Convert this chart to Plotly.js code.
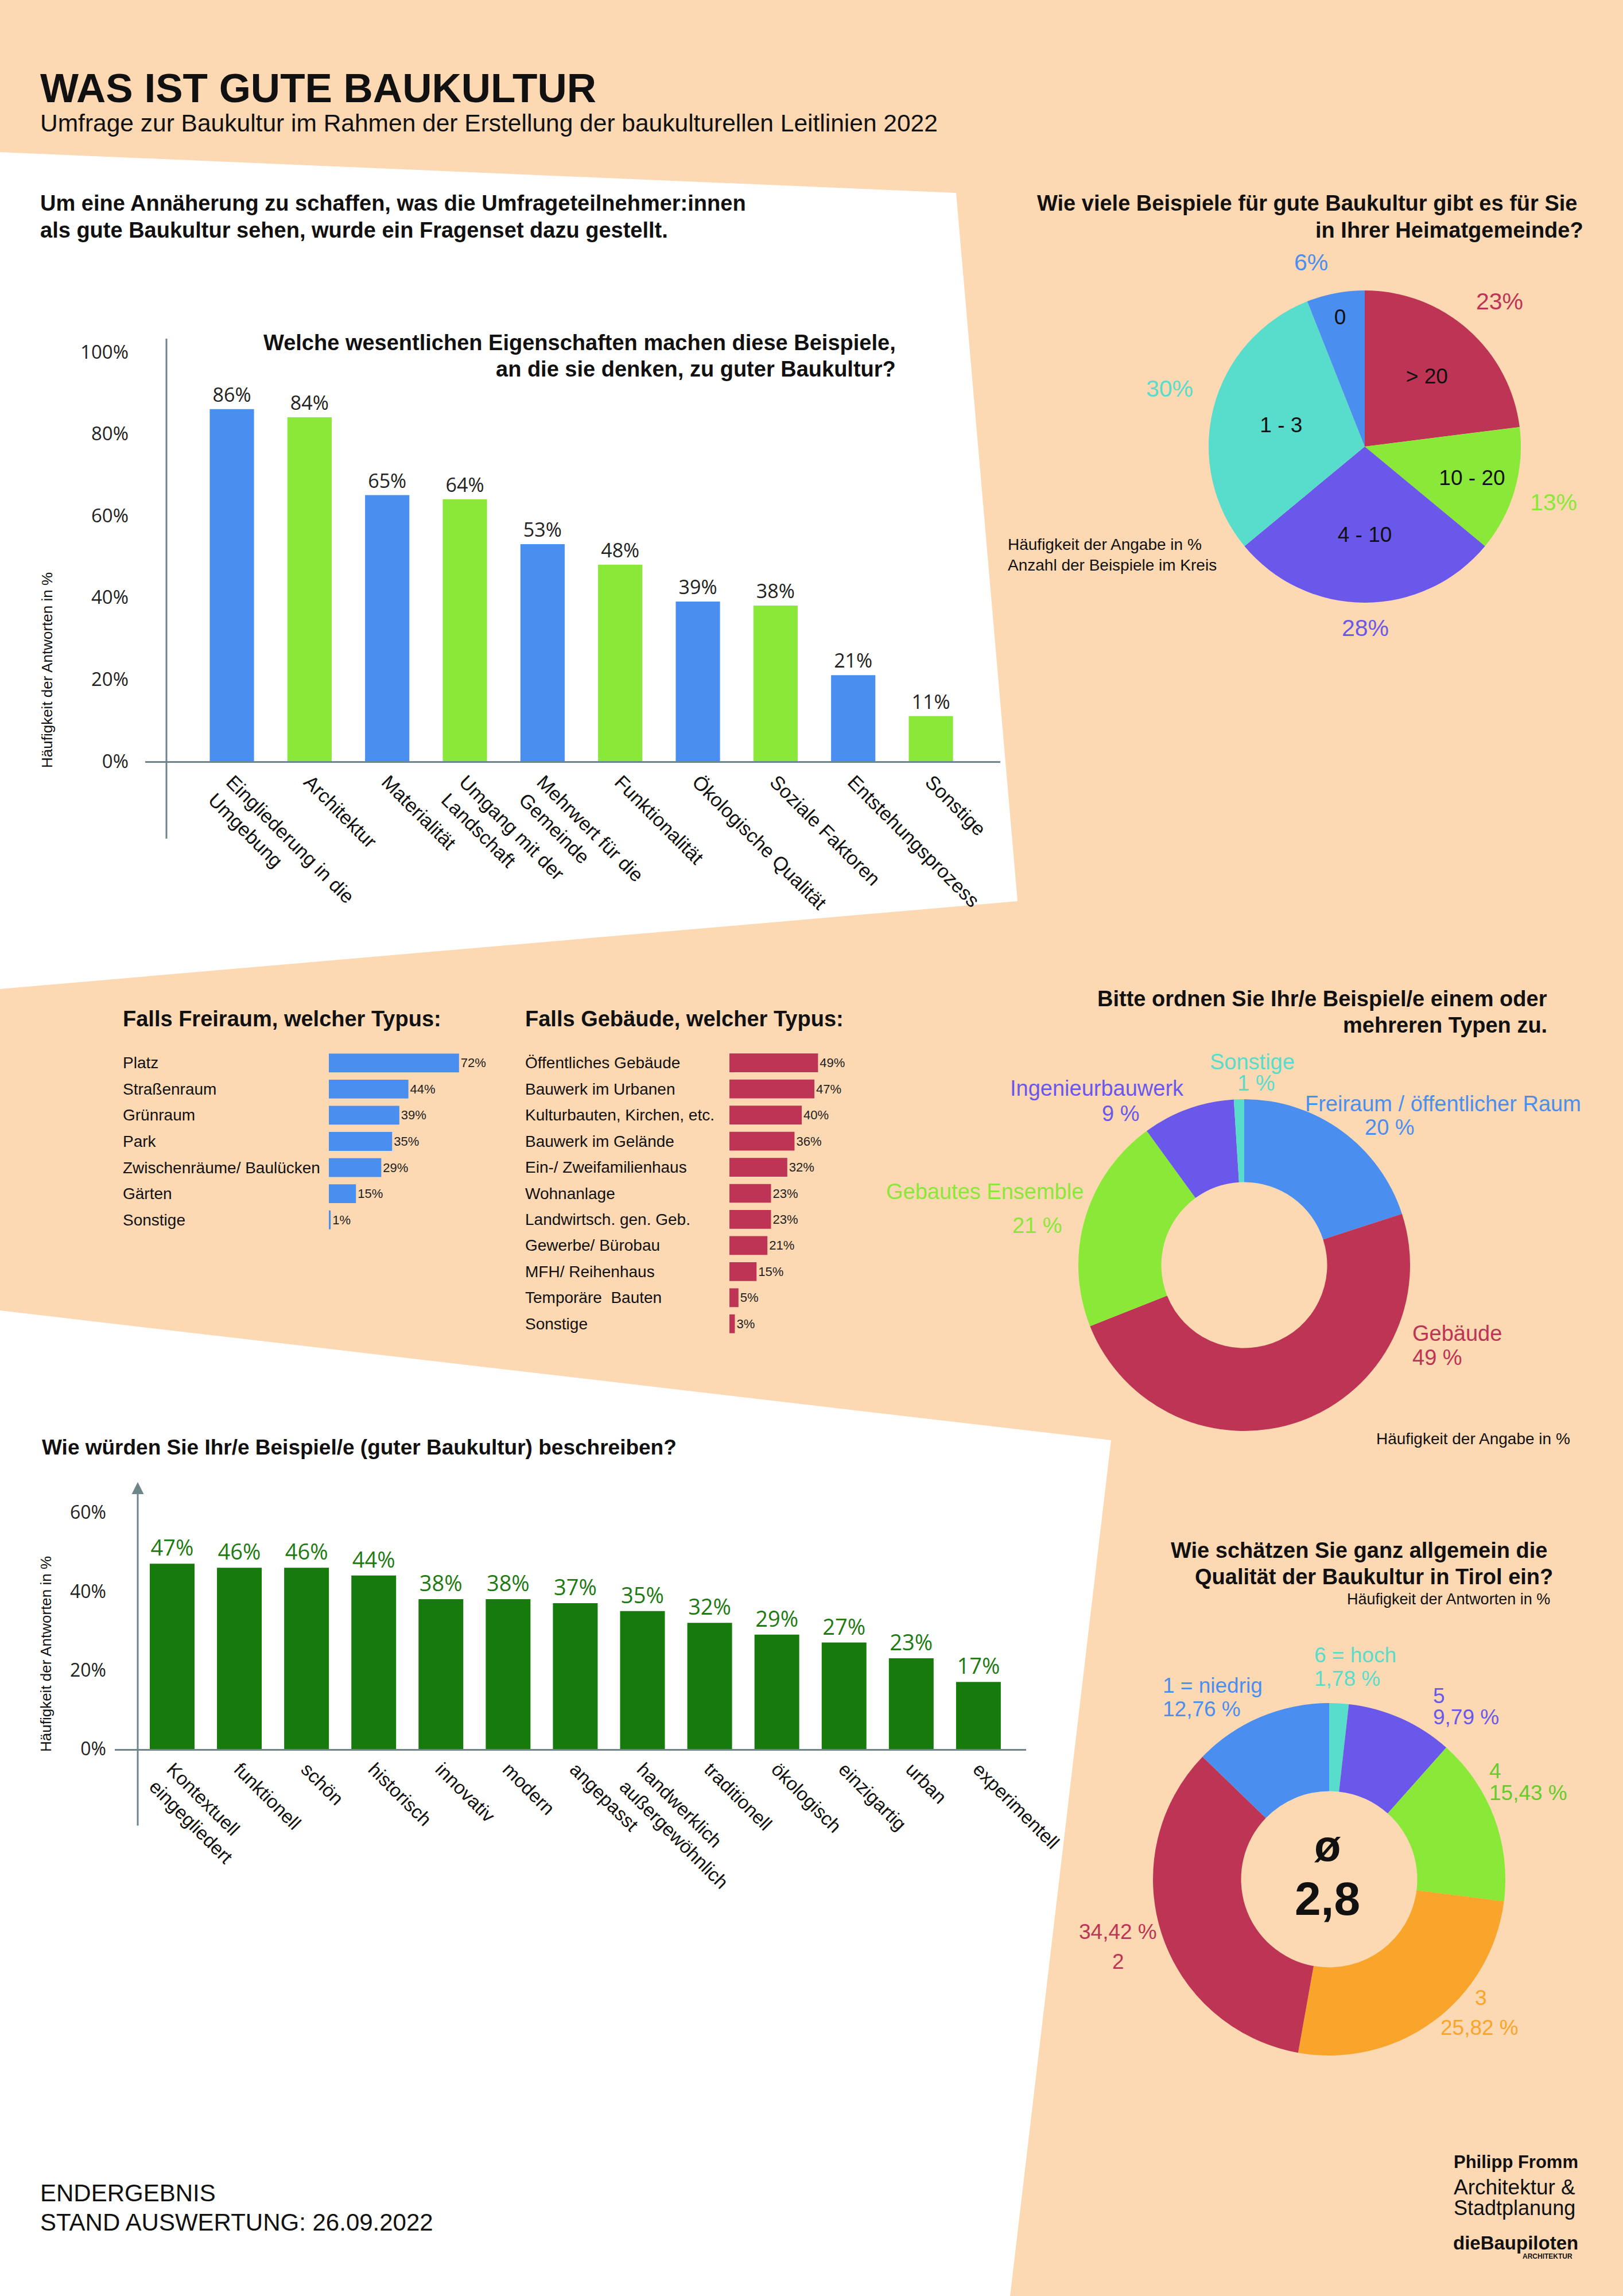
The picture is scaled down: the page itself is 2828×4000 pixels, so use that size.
<!DOCTYPE html>
<html>
<head>
<meta charset="utf-8">
<script src="https://cdn.plot.ly/plotly-3.0.1.min.js"></script>
<style>
  html, body { margin: 0; padding: 0; background: #FCD8B3; }
  #chart { width: 2828px; height: 4000px; }
</style>
</head>
<body>
<div id="chart"></div>
<script>
// ---- Umfragedaten -------------------------------------------------------

// Welche wesentlichen Eigenschaften machen diese Beispiele zu guter Baukultur?
const eigenschaften = [
  'Eingliederung in die<br>Umgebung', 'Architektur', 'Materialität',
  'Umgang mit der<br>Landschaft', 'Mehrwert für die<br>Gemeinde', 'Funktionalität',
  'Ökologische Qualität', 'Soziale Faktoren', 'Entstehungsprozess', 'Sonstige'
];
const eigenschaftenWerte = [86, 84, 65, 64, 53, 48, 39, 38, 21, 11];
const eigenschaftenTicks = [0, 20, 40, 60, 80, 100];

// Wie viele Beispiele gibt es in der Heimatgemeinde?
const beispielKlassen = ['> 20', '10 - 20', '4 - 10', '1 - 3', '0'];
const beispielAnteile = [23, 13, 28, 30, 6];

// Falls Freiraum, welcher Typus
const freiraumTypen = ['Platz', 'Straßenraum', 'Grünraum', 'Park',
  'Zwischenräume/ Baulücken', 'Gärten', 'Sonstige'];
const freiraumWerte = [72, 44, 39, 35, 29, 15, 1];

// Falls Gebäude, welcher Typus
const gebaeudeTypen = ['Öffentliches Gebäude', 'Bauwerk im Urbanen',
  'Kulturbauten, Kirchen, etc.', 'Bauwerk im Gelände', 'Ein-/ Zweifamilienhaus',
  'Wohnanlage', 'Landwirtsch. gen. Geb.', 'Gewerbe/ Bürobau', 'MFH/ Reihenhaus',
  'Temporäre  Bauten', 'Sonstige'];
const gebaeudeWerte = [49, 47, 40, 36, 32, 23, 23, 21, 15, 5, 3];

// Zuordnung der Beispiele zu Typen
const typen = ['Freiraum / öffentlicher Raum', 'Gebäude', 'Gebautes Ensemble',
  'Ingenieurbauwerk', 'Sonstige'];
const typenAnteile = [20, 49, 21, 9, 1];

// Wie würden Sie Ihr/e Beispiel/e beschreiben?
const beschreibung = ['Kontextuell<br>eingegliedert', 'funktionell', 'schön',
  'historisch', 'innovativ', 'modern', 'angepasst',
  'handwerklich<br>außergewöhnlich', 'traditionell', 'ökologisch',
  'einzigartig', 'urban', 'experimentell'];
const beschreibungWerte = [47, 46, 46, 44, 38, 38, 37, 35, 32, 29, 27, 23, 17];
const beschreibungTicks = [0, 20, 40, 60];

// Qualität der Baukultur in Tirol (1 = niedrig ... 6 = hoch)
const qualitaetStufen = ['6 = hoch', '5', '4', '3', '2', '1 = niedrig'];
const qualitaetAnteile = [1.78, 9.79, 15.43, 25.82, 34.42, 12.76];
const qualitaetMittel = '2,8';

// ---- Gestaltung ---------------------------------------------------------
const W = 2828, H = 4000;
const X = p => p / W;          // Pixel -> Papierkoordinate (horizontal)
const Y = p => 1 - p / H;      // Pixel -> Papierkoordinate (vertikal)

const PEACH = '#FCD8B3';
const BLUE = '#4A8FF0', GREEN = '#89E838', CRIMSON = '#BE3455',
      PURPLE = '#6A58EA', TURQ = '#58DDCC', ORANGE = '#F9A52B',
      DKGREEN = '#167A0D', AXIS = '#6F858C';
const SANS = 'Liberation Sans, Arial, sans-serif';
const NUM = 'Open Sans, Liberation Sans, sans-serif';

const pct = v => v + '%';
const deComma = v => v.toFixed(2).replace('.', ',') + ' %';

const annotations = [];
function txt(text, x, y, size, opts = {}) {
  annotations.push(Object.assign({
    text: text, x: X(x), y: Y(y), xref: 'paper', yref: 'paper',
    xanchor: 'left', yanchor: 'middle', showarrow: false
  }, opts, { font: Object.assign({ family: SANS, size: size, color: '#111' }, opts.font || {}) }));
}
const bold = s => '<b>' + s + '</b>';

// Kopf
txt(bold('WAS IST GUTE BAUKULTUR'), 68, 153, 71);
txt('Umfrage zur Baukultur im Rahmen der Erstellung der baukulturellen Leitlinien 2022', 68, 215, 42.5);
txt(bold('Um eine Annäherung zu schaffen, was die Umfrageteilnehmer:innen'), 68, 354, 38);
txt(bold('als gute Baukultur sehen, wurde ein Fragenset dazu gestellt.'), 68, 401, 38);

// Abschnitt Eigenschaften
txt(bold('Welche wesentlichen Eigenschaften machen diese Beispiele,'), 1563, 597, 38, { xanchor: 'right' });
txt(bold('an die sie denken, zu guter Baukultur?'), 1563, 643, 38, { xanchor: 'right' });
txt('Häufigkeit der Antworten in %', 82, 1168, 26, { textangle: -90, xanchor: 'center' });

// Abschnitt Anzahl Beispiele
txt(bold('Wie viele Beispiele für gute Baukultur gibt es für Sie'), 2750, 354, 38, { xanchor: 'right' });
txt(bold('in Ihrer Heimatgemeinde?'), 2761, 401, 38, { xanchor: 'right' });
txt('Häufigkeit der Angabe in %', 1754, 948, 28);
txt('Anzahl der Beispiele im Kreis', 1754, 984, 28);
const pie1Colors = [CRIMSON, GREEN, PURPLE, TURQ, BLUE];
const pie1LabelPos = [[2613, 525], [2707, 875], [2379, 1094], [2038, 677], [2284, 457]];
beispielAnteile.forEach((v, i) => {
  txt(pct(v), pie1LabelPos[i][0], pie1LabelPos[i][1], 41,
      { xanchor: 'center', font: { color: pie1Colors[i] } });
});

// Abschnitt Freiraum / Gebäude
txt(bold('Falls Freiraum, welcher Typus:'), 212, 1775, 38);
txt(bold('Falls Gebäude, welcher Typus:'), 913, 1775, 38);
freiraumTypen.forEach(t => annotations.push({
  text: t, x: X(212), y: t, xref: 'paper', yref: 'y2', xanchor: 'left', yanchor: 'middle',
  showarrow: false, font: { family: SANS, size: 28, color: '#111' }
}));
gebaeudeTypen.forEach(t => annotations.push({
  text: t, x: X(913), y: t, xref: 'paper', yref: 'y3', xanchor: 'left', yanchor: 'middle',
  showarrow: false, font: { family: SANS, size: 28, color: '#111' }
}));

// Abschnitt Typenzuordnung
txt(bold('Bitte ordnen Sie Ihr/e Beispiel/e einem oder'), 2698, 1740, 38, { xanchor: 'right' });
txt(bold('mehreren Typen zu.'), 2698, 1786, 38, { xanchor: 'right' });
const typColors = [BLUE, CRIMSON, GREEN, PURPLE, TURQ];
const typLabelPos = [   // [Name-Zeile, Wert-Zeile, Ausrichtung]
  [[2514, 1923], [2421, 1964], 'center'],
  [[2459, 2323], [2459, 2365], 'left'],
  [[1716, 2076], [1807, 2135], 'center'],
  [[1911, 1896], [1953, 1940], 'center'],
  [[2182, 1850], [2188, 1887], 'center']
];
typen.forEach((t, i) => {
  const p = typLabelPos[i];
  txt(t, p[0][0], p[0][1], 38, { xanchor: p[2], font: { color: typColors[i] } });
  txt(typenAnteile[i] + ' %', p[1][0], p[1][1], 38, { xanchor: p[2], font: { color: typColors[i] } });
});
txt('Häufigkeit der Angabe in %', 2738, 2506, 28, { xanchor: 'right' });

// Abschnitt Beschreibung
txt(bold('Wie würden Sie Ihr/e Beispiel/e (guter Baukultur) beschreiben?'), 71, 2521, 37);
txt('Häufigkeit der Antworten in %', 80, 2882, 26, { textangle: -90, xanchor: 'center' });
annotations.push({
  text: '', x: X(240), y: Y(2582), xref: 'paper', yref: 'paper',
  ax: 0, ay: 600, axref: 'pixel', ayref: 'pixel', showarrow: true,
  arrowhead: 2, arrowsize: 1.4, arrowwidth: 3, arrowcolor: AXIS, standoff: 0
});

// Abschnitt Qualität
txt(bold('Wie schätzen Sie ganz allgemein die'), 2698, 2701, 38, { xanchor: 'right' });
txt(bold('Qualität der Baukultur in Tirol ein?'), 2708, 2747, 38, { xanchor: 'right' });
txt('Häufigkeit der Antworten in %', 2703, 2786, 27, { xanchor: 'right' });
const qColors = [TURQ, PURPLE, GREEN, ORANGE, CRIMSON, BLUE];
const qTextColors = [TURQ, PURPLE, '#66CC2E', ORANGE, CRIMSON, BLUE];
const qLabelPos = [   // [Stufen-Zeile, Wert-Zeile, Ausrichtung]
  [[2288, 2883], [2288, 2924], 'left'],
  [[2495, 2954], [2495, 2991], 'left'],
  [[2593, 3085], [2593, 3123], 'left'],
  [[2580, 3480], [2578, 3532], 'center'],
  [[1948, 3417], [1948, 3365], 'center'],
  [[2024, 2936], [2024, 2977], 'left']
];
qualitaetStufen.forEach((s, i) => {
  const p = qLabelPos[i];
  txt(s, p[0][0], p[0][1], 37, { xanchor: p[2], font: { color: qTextColors[i] } });
  txt(deComma(qualitaetAnteile[i]), p[1][0], p[1][1], 37, { xanchor: p[2], font: { color: qTextColors[i] } });
});
txt(bold('ø'), 2313, 3215, 76, { xanchor: 'center' });
txt(bold(qualitaetMittel), 2313, 3307, 82, { xanchor: 'center' });

// Fuß
txt('ENDERGEBNIS', 68, 3820, 42);
txt('STAND AUSWERTUNG: 26.09.2022', 68, 3871, 42);
txt(bold('Philipp Fromm'), 2531, 3766, 31);
txt('Architektur &', 2531, 3810, 37);
txt('Stadtplanung', 2531, 3846, 36);
txt(bold('dieBaupiloten'), 2530, 3907, 33);
txt(bold('ARCHITEKTUR'), 2742, 3931, 12, { xanchor: 'right' });

// ---- Datenreihen ---------------------------------------------------------
const traces = [
  {
    type: 'bar', x: eigenschaften, y: eigenschaftenWerte, xaxis: 'x', yaxis: 'y',
    marker: { color: eigenschaftenWerte.map((_, i) => i % 2 ? GREEN : BLUE) },
    width: 0.57, text: eigenschaftenWerte.map(pct), textposition: 'outside',
    textfont: { family: NUM, size: 34, color: '#222' }, cliponaxis: false,
    hoverinfo: 'skip', showlegend: false
  },
  {
    type: 'pie', values: beispielAnteile, labels: beispielKlassen,
    domain: { x: [X(2106), X(2650)], y: [Y(1050), Y(506)] },
    sort: false, direction: 'clockwise', rotation: 0,
    marker: { colors: pie1Colors, line: { width: 0 } },
    textinfo: 'label', textposition: 'inside', insidetextorientation: 'horizontal',
    textfont: { family: SANS, size: 37, color: '#111' },
    hoverinfo: 'skip', showlegend: false
  },
  {
    type: 'bar', orientation: 'h', x: freiraumWerte, y: freiraumTypen, xaxis: 'x2', yaxis: 'y2',
    marker: { color: BLUE }, width: 0.72, text: freiraumWerte.map(pct), textposition: 'outside',
    textfont: { family: SANS, size: 22, color: '#222' }, cliponaxis: false,
    hoverinfo: 'skip', showlegend: false
  },
  {
    type: 'bar', orientation: 'h', x: gebaeudeWerte, y: gebaeudeTypen, xaxis: 'x3', yaxis: 'y3',
    marker: { color: CRIMSON }, width: 0.72, text: gebaeudeWerte.map(pct), textposition: 'outside',
    textfont: { family: SANS, size: 22, color: '#222' }, cliponaxis: false,
    hoverinfo: 'skip', showlegend: false
  },
  {
    type: 'pie', values: typenAnteile, labels: typen, hole: 0.5,
    domain: { x: [X(1879), X(2457)], y: [Y(2493), Y(1915)] },
    sort: false, direction: 'clockwise', rotation: 0,
    marker: { colors: typColors, line: { width: 0 } },
    textinfo: 'none', hoverinfo: 'skip', showlegend: false
  },
  {
    type: 'bar', x: beschreibung, y: beschreibungWerte, xaxis: 'x4', yaxis: 'y4',
    marker: { color: DKGREEN }, width: 0.666, text: beschreibungWerte.map(pct),
    textposition: 'outside', textfont: { family: NUM, size: 38, color: '#1E7A12' },
    cliponaxis: false, hoverinfo: 'skip', showlegend: false
  },
  {
    type: 'pie', values: qualitaetAnteile, labels: qualitaetStufen, hole: 0.5,
    domain: { x: [X(2009), X(2623)], y: [Y(3581), Y(2967)] },
    sort: false, direction: 'clockwise', rotation: 0,
    marker: { colors: qColors, line: { width: 0 } },
    textinfo: 'none', hoverinfo: 'skip', showlegend: false
  }
];

const hidden = { visible: false, fixedrange: true };
const layout = {
  width: W, height: H, margin: { l: 0, r: 0, t: 0, b: 0 },
  paper_bgcolor: PEACH, plot_bgcolor: 'rgba(0,0,0,0)',
  font: { family: SANS, color: '#111' },
  showlegend: false,
  xaxis: {
    domain: [X(253), X(1743)], anchor: 'y', type: 'category', range: [-1.116, 9.894],
    showline: true, linecolor: AXIS, linewidth: 3, ticks: '', showgrid: false, zeroline: false,
    tickangle: 45, tickfont: { family: SANS, size: 34, color: '#111' }, fixedrange: true
  },
  yaxis: {
    domain: [Y(1326), Y(613)], anchor: 'x', range: [0, 100],
    tickmode: 'array', tickvals: eigenschaftenTicks, ticktext: eigenschaftenTicks.map(pct),
    ticks: '', showline: false, showgrid: false, zeroline: false, ticklabelstandoff: 28,
    tickfont: { family: NUM, size: 33, color: '#222' }, fixedrange: true
  },
  xaxis2: Object.assign({ domain: [X(573), X(888)], anchor: 'y2', range: [0, 100] }, hidden),
  yaxis2: Object.assign({ domain: [Y(2148), Y(1829)], anchor: 'x2', type: 'category',
    range: [6.5, -0.5] }, hidden),
  xaxis3: Object.assign({ domain: [X(1271), X(1586)], anchor: 'y3', range: [0, 100] }, hidden),
  yaxis3: Object.assign({ domain: [Y(2329), Y(1829)], anchor: 'x3', type: 'category',
    range: [10.5, -0.5] }, hidden),
  xaxis4: {
    domain: [X(200), X(1788)], anchor: 'y4', type: 'category', range: [-0.854, 12.71],
    showline: true, linecolor: AXIS, linewidth: 3, ticks: '', showgrid: false, zeroline: false,
    tickangle: 45, tickfont: { family: SANS, size: 33, color: '#111' }, fixedrange: true
  },
  yaxis4: {
    domain: [Y(3047), Y(2635)], anchor: 'x4', range: [0, 60],
    tickmode: 'array', tickvals: beschreibungTicks, ticktext: beschreibungTicks.map(pct),
    ticks: '', showline: false, showgrid: false, zeroline: false, ticklabelstandoff: 14,
    tickfont: { family: NUM, size: 32, color: '#222' }, fixedrange: true
  },
  shapes: [
    { type: 'path', xref: 'paper', yref: 'paper', layer: 'below',
      path: `M ${X(0)},${Y(265)} L ${X(1666)},${Y(336)} L ${X(1773)},${Y(1570)} L ${X(0)},${Y(1723)} Z`,
      fillcolor: '#FFFFFF', line: { width: 0 } },
    { type: 'path', xref: 'paper', yref: 'paper', layer: 'below',
      path: `M ${X(0)},${Y(2283)} L ${X(1936)},${Y(2509)} L ${X(1760)},${Y(4000)} L ${X(0)},${Y(4000)} Z`,
      fillcolor: '#FFFFFF', line: { width: 0 } },
    { type: 'line', xref: 'paper', yref: 'paper',
      x0: X(290), x1: X(290), y0: Y(590), y1: Y(1461),
      line: { color: AXIS, width: 3 } }
  ],
  annotations: annotations
};

Plotly.newPlot('chart', traces, layout, { displayModeBar: false, staticPlot: true });
</script>
</body>
</html>
